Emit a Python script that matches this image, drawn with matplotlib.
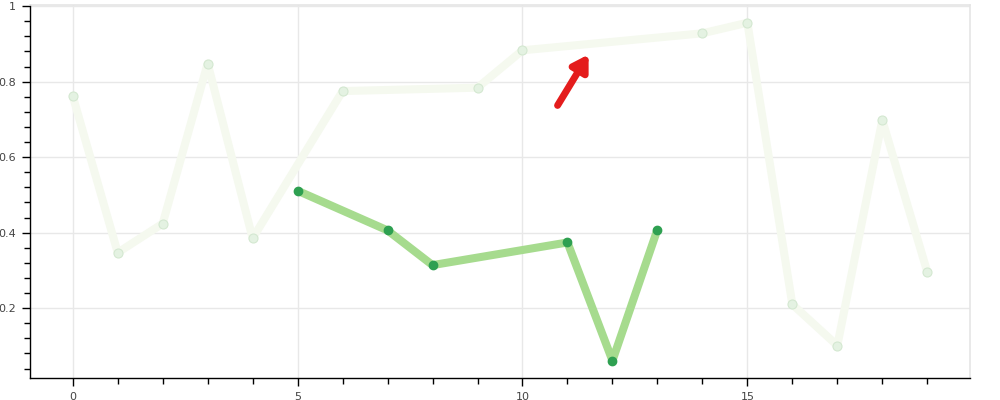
import numpy as np
import matplotlib.pyplot as plt
from matplotlib.ticker import MultipleLocator

# the faded (non-selected) points and the highlighted (selected) points
faded_x = [0, 1, 2, 3, 4, 6, 9, 10, 14, 15, 16, 17, 18, 19]
faded_y = [0.762, 0.347, 0.424, 0.848, 0.385, 0.775, 0.784, 0.883,
           0.928, 0.956, 0.210, 0.101, 0.698, 0.296]

sel_x = [5, 7, 8, 11, 12, 13]
sel_y = [0.511, 0.406, 0.314, 0.374, 0.061, 0.408]

arrow_tail = (10.78, 0.737)
arrow_head = (11.47, 0.872)

fig = plt.figure(figsize=(10, 4), dpi=100, facecolor='white')
ax = fig.add_axes([0.03, 0.055, 0.94, 0.9325])

ax.plot(faded_x, faded_y, color='#f5f9ef', lw=5.8, solid_capstyle='butt', zorder=2)
ax.plot(faded_x, faded_y, 'o', ms=6.5, mfc='#e4f2e2', mec='#d4e8d1', mew=0.8, zorder=3)

ax.plot(sel_x, sel_y, color='#a6db8e', lw=5.8, solid_capstyle='butt', zorder=4)
ax.plot(sel_x, sel_y, 'o', ms=6, color='#2ea051', zorder=5)

ax.annotate('', xy=arrow_head, xytext=arrow_tail,
            arrowprops=dict(arrowstyle='-|>,head_length=0.9,head_width=0.55',
                            color='#e41c1c', lw=5, capstyle='round',
                            shrinkA=0, shrinkB=0), zorder=6)

ax.set_xlim(-0.95, 19.95)
ax.set_ylim(0.015, 1.003)

ax.xaxis.set_major_locator(MultipleLocator(5))
ax.xaxis.set_minor_locator(MultipleLocator(1))
ax.yaxis.set_major_locator(MultipleLocator(0.2))
ax.yaxis.set_minor_locator(MultipleLocator(0.04))
ax.set_yticks([0.2, 0.4, 0.6, 0.8, 1.0])
ax.set_yticklabels(['0.2', '0.4', '0.6', '0.8', '1'])

ax.grid(True, which='major', color='#e8e8e8', lw=1, zorder=0)
ax.set_axisbelow(True)

for side in ['top', 'right']:
    ax.spines[side].set_color('#e5e5e5')
    ax.spines[side].set_linewidth(1.2)
for side in ['left', 'bottom']:
    ax.spines[side].set_color('black')
    ax.spines[side].set_linewidth(1)

ax.tick_params(which='major', length=6, width=1, direction='out',
               labelsize=8, labelcolor='#444444', pad=4)
ax.tick_params(which='minor', length=4, width=1, direction='out')

fig.savefig('out.png', dpi=100)
